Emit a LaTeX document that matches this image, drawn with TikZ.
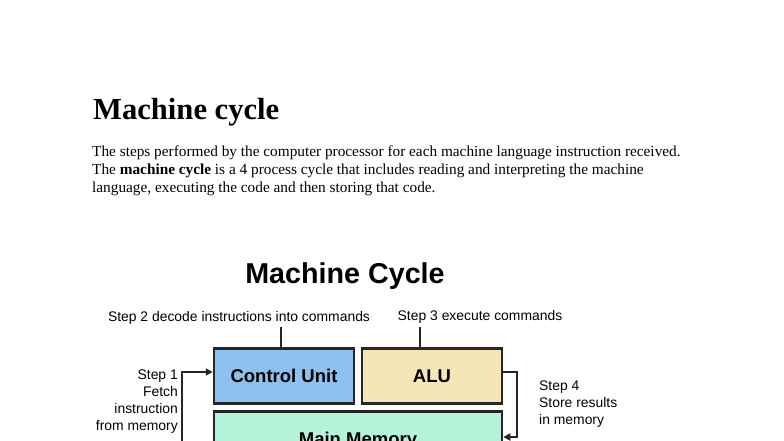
\documentclass[tikz,border=0pt]{standalone}
\usepackage{fontspec}
\setmainfont{Liberation Serif}
\setsansfont{Liberation Sans}
\usetikzlibrary{arrows.meta}
\begin{document}
\begin{tikzpicture}[x=1pt,y=-1pt,
  box/.style={draw=black!85,line width=2.5pt,inner sep=0pt,font=\sffamily\bfseries\fontsize{18.5}{20}\selectfont},
  lbl/.style={font=\sffamily\fontsize{13.9}{16.7}\selectfont,inner sep=0pt},
  link/.style={line width=2.8pt,draw=black!85},
  arr/.style={link,-{Triangle[length=7pt,width=7pt]}}]
\useasboundingbox (0,0) rectangle (784,441);
\clip (0,0) rectangle (784,441);
\node[anchor=base west,font=\bfseries\fontsize{30.6}{32}\selectfont,inner sep=0pt] (title) at (93,120) {Machine cycle};
\node[anchor=north west,align=left,inner sep=0pt,font=\fontsize{15.3}{18}\selectfont] (para) at (92,146)
{The steps performed by the computer processor for each machine language instruction received.\\
The \textbf{machine cycle} is a 4 process cycle that includes reading and interpreting the machine\\
language, executing the code and then storing that code.};
\node[font=\sffamily\bfseries\fontsize{28.7}{30}\selectfont,inner sep=0pt] (mc) at (345,276) {Machine Cycle};
\node[lbl] (s2) at (239,318) {Step 2 decode instructions into commands};
\node[lbl] (s3) at (480,317) {Step 3 execute commands};
\node[box,fill={rgb,255:red,143;green,193;blue,238},minimum width=140pt,minimum height=55pt] (cu) at (284,376) {Control Unit};
\node[box,fill={rgb,255:red,245;green,230;blue,183},minimum width=140pt,minimum height=55pt] (alu) at (432,376) {ALU};
\node[box,fill={rgb,255:red,180;green,242;blue,217},minimum width=288pt,minimum height=60pt,anchor=north] (mm) at (358,410) {};
\node[font=\sffamily\bfseries\fontsize{18.5}{20}\selectfont,inner sep=0pt] (mmt) at (358,441) {Main Memory};
\draw[link] (cu.north -| 281,0) -- (281,327);
\draw[link] (alu.north -| 420,0) -- (420,327);
\coordinate (lb) at (182,470);
\draw[arr] (lb) |- (cu.west |- 0,372);
\draw[arr] (alu.east |- 0,372) -| (517,437) -- (mm.east |- 0,437);
\node[lbl,align=right,anchor=north east] (s1) at (178,370) {Step 1\\Fetch\\instruction\\from memory};
\node[lbl,align=left,anchor=north west] (s4) at (539,381) {Step 4\\Store results\\in memory};
\end{tikzpicture}
\end{document}
